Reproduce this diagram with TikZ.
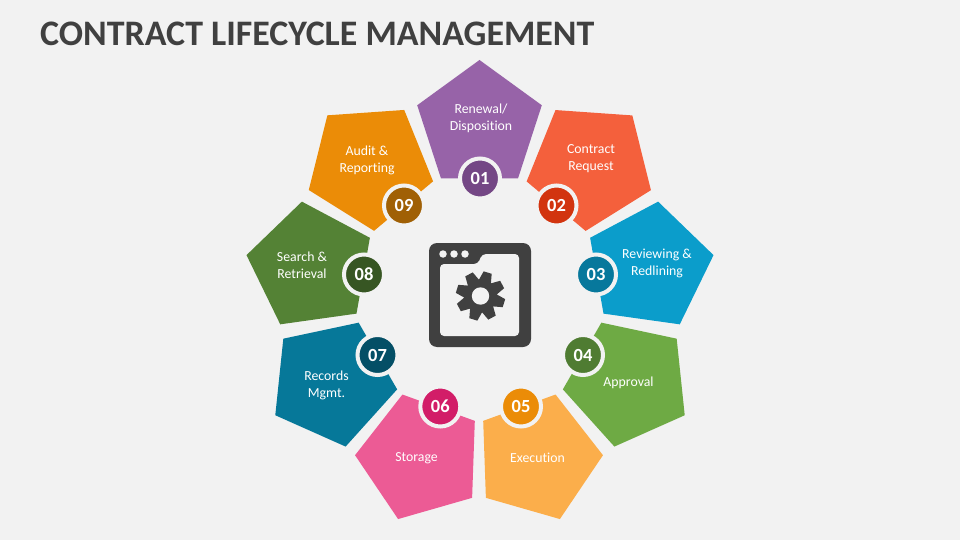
\documentclass[tikz,border=0pt]{standalone}
\usepackage{fontspec}
\setmainfont[Ligatures=CommonOff]{Carlito}
\usetikzlibrary{shapes.geometric, positioning}

\definecolor{pageBg}{HTML}{F2F2F2}
\definecolor{iconDark}{HTML}{404040}
\definecolor{renewalCol}{HTML}{9763A8}
\definecolor{renewalNum}{HTML}{744785}
\definecolor{requestCol}{HTML}{F4603C}
\definecolor{requestNum}{HTML}{D2340F}
\definecolor{reviewCol}{HTML}{0B9DCB}
\definecolor{reviewNum}{HTML}{07789C}
\definecolor{approvalCol}{HTML}{6EAA44}
\definecolor{approvalNum}{HTML}{4F7C32}
\definecolor{executionCol}{HTML}{FBAE4B}
\definecolor{executionNum}{HTML}{EB8C07}
\definecolor{storageCol}{HTML}{EC5B95}
\definecolor{storageNum}{HTML}{D21D68}
\definecolor{recordsCol}{HTML}{067899}
\definecolor{recordsNum}{HTML}{044F66}
\definecolor{searchCol}{HTML}{548235}
\definecolor{searchNum}{HTML}{375623}
\definecolor{auditCol}{HTML}{EB8C07}
\definecolor{auditNum}{HTML}{A06005}

\begin{document}
\begin{tikzpicture}[x=1pt, y=-1pt, node distance=11pt, on grid]
  \tikzstyle{petal} = [regular polygon, regular polygon sides=5, minimum size=131pt, inner sep=0pt, outer sep=0pt];
  \tikzstyle{badge} = [circle, draw=pageBg, line width=4pt, minimum size=40pt, inner sep=0pt, text=white, font={\fontsize{18.5}{18.5}\selectfont\bfseries}];
  \tikzstyle{petalLabel} = [align=center, text=white, inner sep=0pt, font={\fontsize{13.8}{17}\selectfont}];
  \tikzstyle{winDot} = [circle, fill=pageBg, minimum size=7.5pt, inner sep=0pt];

  \fill[pageBg] (0,0) rectangle (960,540);
  \node[anchor=west, inner sep=0pt, text=iconDark, font={\fontsize{35.9}{36}\selectfont\bfseries}](title) at (40,34) {CONTRACT LIFECYCLE MANAGEMENT};

  % petals
  \node[petal, fill=renewalCol, shape border rotate=0](petal1) at (479.5,125.5) {};
  \node[petal, fill=requestCol, shape border rotate=-40](petal2) at (590.2,165.6) {};
  \node[petal, fill=reviewCol, shape border rotate=-80](petal3) at (649,266.5) {};
  \node[petal, fill=approvalCol, shape border rotate=-120](petal4) at (628,382.5) {};
  \node[petal, fill=executionCol, shape border rotate=-160](petal5) at (537.5,457.5) {};
  \node[petal, fill=storageCol, shape border rotate=-200](petal6) at (420.5,457.5) {};
  \node[petal, fill=recordsCol, shape border rotate=-240](petal7) at (332,382.5) {};
  \node[petal, fill=searchCol, shape border rotate=-280](petal8) at (311,266.5) {};
  \node[petal, fill=auditCol, shape border rotate=-320](petal9) at (369.5,165.5) {};

  % labels
  \node[petalLabel](label1) at (481,118) {Renewal/\\Disposition};
  \node[petalLabel](label2) at (591,158.5) {Contract\\Request};
  \node[petalLabel](label3) at (657,263.5) {Reviewing \&\\Redlining};
  \node[petalLabel](label4) at (628.5,383) {Approval};
  \node[petalLabel](label5) at (537.5,458) {Execution};
  \node[petalLabel](label6) at (416.5,458) {Storage};
  \node[petalLabel](label7) at (326.5,385) {Records\\Mgmt.};
  \node[petalLabel](label8) at (302,265) {Search \&\\Retrieval};
  \node[petalLabel](label9) at (367,160) {Audit \&\\Reporting};

  % numbers
  \node[badge, fill=renewalNum](num1) at (480,178.5) {01};
  \node[badge, fill=requestNum](num2) at (556.5,205.5) {02};
  \node[badge, fill=reviewNum](num3) at (596,274.5) {03};
  \node[badge, fill=approvalNum](num4) at (583,355) {04};
  \node[badge, fill=executionNum](num5) at (521,406.5) {05};
  \node[badge, fill=storageNum](num6) at (440.3,406.5) {06};
  \node[badge, fill=recordsNum](num7) at (377.5,355) {07};
  \node[badge, fill=searchNum](num8) at (364,274.5) {08};
  \node[badge, fill=auditNum](num9) at (404,205.5) {09};

  % window icon
  \node[rectangle, rounded corners=8pt, fill=iconDark, minimum width=102pt, minimum height=104pt, inner sep=0pt](window) at (480,295) {};
  \node[winDot](dot1) at (443,254) {};
  \node[winDot](dot2) [right=of dot1] {};
  \node[winDot](dot3) [right=of dot2] {};
  \fill[pageBg, rounded corners=4pt] (440,264) -- (478,264) -- (482,254) -- (519,254) -- (519,336) -- (440,336) -- cycle;

  % gear
  \fill[iconDark] (480.5,296) circle (16.5);
  \foreach \a in {28,73,118,163,208,253,298,343} {
    \fill[iconDark, shift={(480.5,296)}, rotate=\a] (14,-6.5) -- (24.5,-4.2) -- (24.5,4.2) -- (14,6.5) -- cycle;
  }
  \fill[pageBg] (480.5,296) circle (8.7);
\end{tikzpicture}
\end{document}
